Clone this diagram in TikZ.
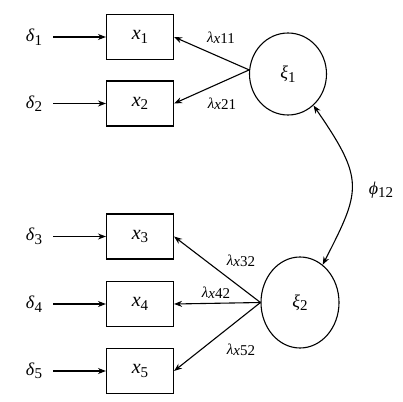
\documentclass[tikz,border=0pt]{standalone}
\usepackage{fontspec}
\setmainfont{Liberation Serif}
\usetikzlibrary{arrows.meta,shapes.geometric}
\newcommand{\Vsub}[2]{\textit{#1}\raisebox{-3.5pt}{\fontsize{15pt}{15pt}\selectfont #2}}
\newcommand{\Lam}[1]{\textit{λ}\raisebox{-1pt}{\textit{x}#1}}
\begin{document}
\begin{tikzpicture}[x=1pt,y=-1pt,
  obs/.style={draw,line width=1.1pt,minimum width=67pt,minimum height=45pt,inner sep=0pt,font=\fontsize{20pt}{20pt}\selectfont},
  lat/.style={draw,line width=1.1pt,ellipse,inner sep=0pt,font=\fontsize{18pt}{18pt}\selectfont},
  err/.style={inner sep=1pt,font=\fontsize{18pt}{18pt}\selectfont},
  lab/.style={inner sep=0pt,font=\fontsize{15pt}{15pt}\selectfont},
  arr/.style={line width=1.1pt,-{Stealth[length=8pt,width=6pt]}},
  barr/.style={line width=1.1pt,{Stealth[length=8pt,width=6pt]}-{Stealth[length=8pt,width=6pt]}}]
\useasboundingbox (0,0) rectangle (403,401);
\node[obs] (x1) at (140,37) {\Vsub{x}{1}};
\node[obs] (x2) at (140,103.5) {\Vsub{x}{2}};
\node[obs] (x3) at (140,236.5) {\Vsub{x}{3}};
\node[obs] (x4) at (140,304) {\Vsub{x}{4}};
\node[obs] (x5) at (140,371) {\Vsub{x}{5}};
\node[err] (d1) at (34,37) {\Vsub{δ}{1}};
\node[err] (d2) at (34,103.5) {\Vsub{δ}{2}};
\node[err] (d3) at (34,236.5) {\Vsub{δ}{3}};
\node[err] (d4) at (34,304) {\Vsub{δ}{4}};
\node[err] (d5) at (34,371) {\Vsub{δ}{5}};
\node[lat,minimum width=77pt,minimum height=82pt] (xi1) at (288,74) {\Vsub{ξ}{1}};
\node[lat,minimum width=78pt,minimum height=91pt] (xi2) at (300,302.5) {\Vsub{ξ}{2}};
\foreach \i in {1,...,5} {\draw[arr,shorten <=10pt] (d\i) -- (x\i);}
\draw[arr] (xi1.174) -- (x1.east);
\draw[arr] (xi1.174) -- (x2.east);
\draw[arr] (xi2.west) -- (x3.east);
\draw[arr] (xi2.west) -- (x4.east);
\draw[arr] (xi2.west) -- (x5.east);
\draw[barr] (xi1.-51) .. controls (365,180) and (361,190) .. (xi2.59);
\node[lab] (l11) at (221,38) {\Lam{11}};
\node[lab] (l21) at (222,104) {\Lam{21}};
\node[lab] (l32) at (241,261) {\Lam{32}};
\node[lab] (l42) at (216,293) {\Lam{42}};
\node[lab] (l52) at (241,350) {\Lam{52}};
\node[err] (phi) at (381,190) {\textit{ϕ}\raisebox{-3.5pt}{\fontsize{15pt}{15pt}\selectfont 12}};
\end{tikzpicture}
\end{document}
